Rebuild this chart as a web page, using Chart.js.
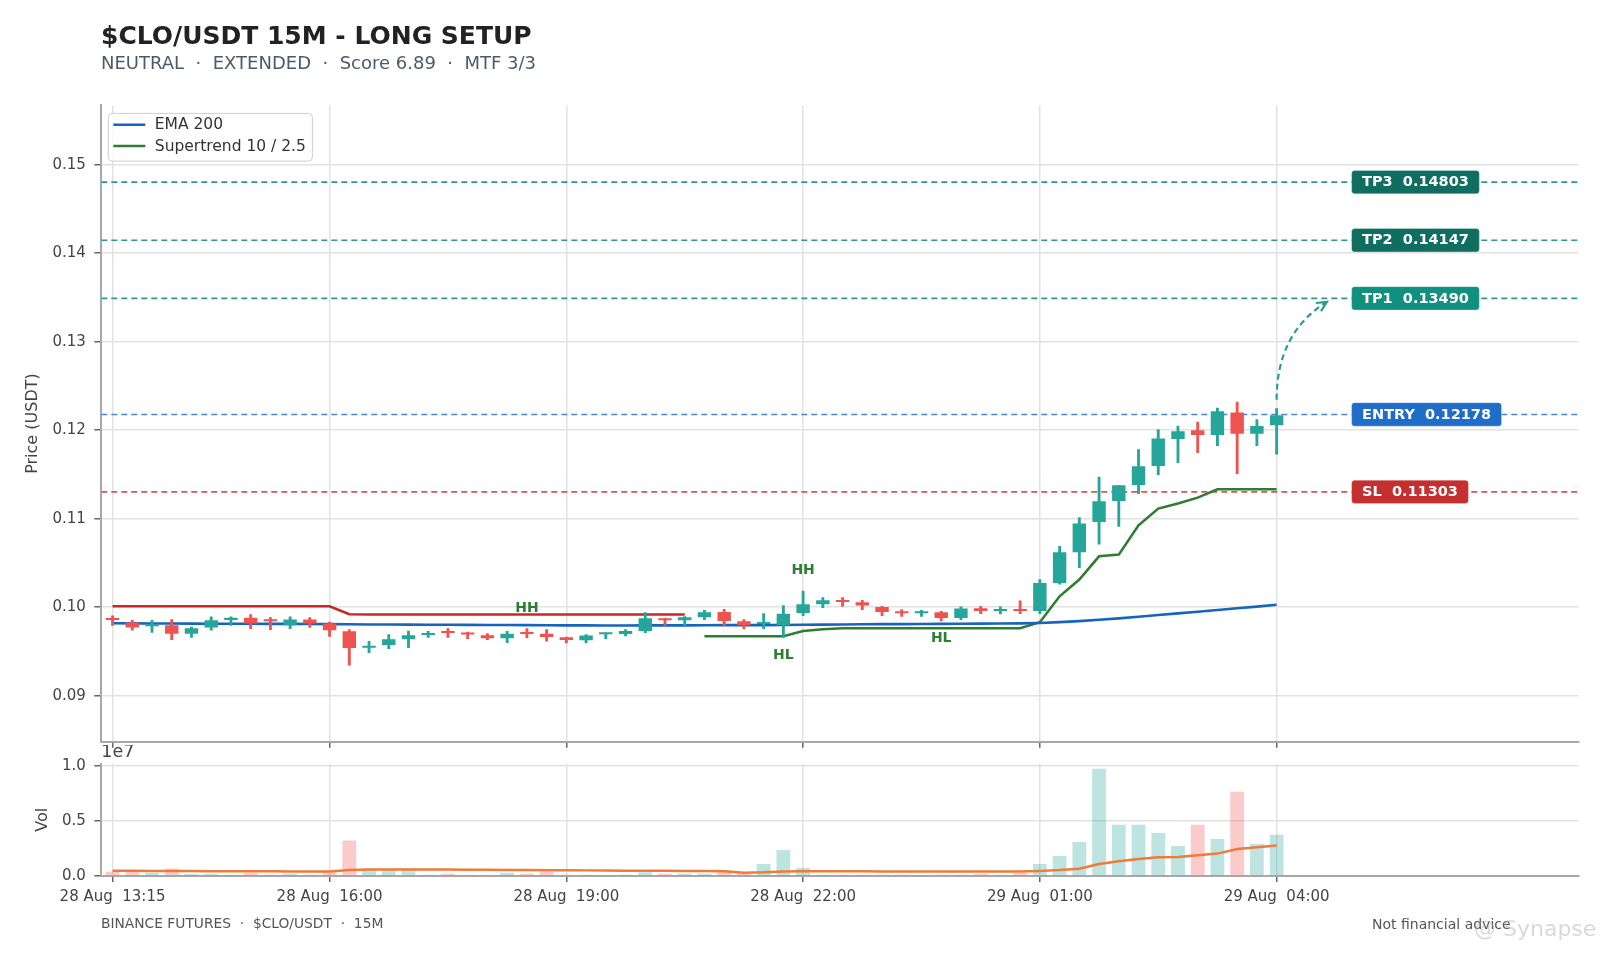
<!DOCTYPE html>
<html>
<head>
<meta charset="utf-8">
<title>$CLO/USDT 15M - LONG SETUP</title>
<script src="https://cdn.jsdelivr.net/npm/chart.js@4.4.1/dist/chart.umd.min.js"></script>
<style>
  html, body { margin: 0; padding: 0; background: #fff; }
  body { width: 1604px; height: 957px; position: relative; overflow: hidden; font-family: "DejaVu Sans", sans-serif; }
  canvas { position: absolute; left: 0; }
  .txt { position: absolute; white-space: pre; line-height: 1; }
  #title { left: 101px; top: 23px; font-size: 25px; font-weight: bold; color: #222; }
  #subtitle { left: 101px; top: 54px; font-size: 18px; color: #4b5b6b; }
  #footL { left: 101px; top: 917px; font-size: 13.8px; color: #555; }
  #footR { left: 1372px; top: 917px; font-size: 14px; color: #555; }
  #mark { left: 1474px; top: 918px; font-size: 22px; color: rgba(170,170,170,0.45); }
</style>
</head>
<body>
<canvas id="priceChart" width="1604" height="760" style="top:0"></canvas>
<canvas id="volChart" width="1604" height="212" style="top:745px"></canvas>
<div id="title" class="txt">$CLO/USDT 15M - LONG SETUP</div>
<div id="subtitle" class="txt">NEUTRAL  ·  EXTENDED  ·  Score 6.89  ·  MTF 3/3</div>
<div id="footL" class="txt">BINANCE FUTURES  ·  $CLO/USDT  ·  15M</div>
<div id="footR" class="txt">Not financial advice</div>
<div id="mark" class="txt">@ Synapse</div>
<script>
// 15m candles, 28 Aug 13:15 -> 29 Aug 04:00
const tickIdx = [0, 11, 23, 35, 47, 59];
const tickLabels = ['28 Aug  13:15', '28 Aug  16:00', '28 Aug  19:00', '28 Aug  22:00', '29 Aug  01:00', '29 Aug  04:00'];

const opens = [
  0.09870, 0.09826, 0.09784, 0.09795, 0.09701, 0.09770, 0.09856, 0.09882, 0.09850, 0.09795,
  0.09860, 0.09815, 0.09728, 0.09543, 0.09573, 0.09637, 0.09686, 0.09720, 0.09697, 0.09683,
  0.09649, 0.09708, 0.09701, 0.09660, 0.09626, 0.09693, 0.09697, 0.09731, 0.09863, 0.09852,
  0.09886, 0.09946, 0.09840, 0.09810, 0.09795, 0.09935, 0.10033, 0.10078, 0.10055, 0.10003,
  0.09946, 0.09931, 0.09942, 0.09878, 0.09988, 0.09957, 0.09980, 0.09957, 0.10273, 0.10620,
  0.10963, 0.11200, 0.11381, 0.11596, 0.11901, 0.11999, 0.11946, 0.12199, 0.11961, 0.12055
];
const highs = [
  0.09901, 0.09852, 0.09852, 0.09860, 0.09776, 0.09890, 0.09890, 0.09916, 0.09882, 0.09890,
  0.09882, 0.09833, 0.09747, 0.09615, 0.09690, 0.09731, 0.09728, 0.09758, 0.09720, 0.09701,
  0.09728, 0.09758, 0.09747, 0.09663, 0.09690, 0.09708, 0.09747, 0.09939, 0.09875, 0.09894,
  0.09965, 0.09976, 0.09860, 0.09927, 0.10018, 0.10183, 0.10108, 0.10108, 0.10078, 0.10010,
  0.09973, 0.09965, 0.09953, 0.10003, 0.10010, 0.10003, 0.10072, 0.10312, 0.10688, 0.11012,
  0.11471, 0.11377, 0.11781, 0.12007, 0.12047, 0.12093, 0.12251, 0.12319, 0.12120, 0.12244
];
const lows = [
  0.09795, 0.09739, 0.09716, 0.09634, 0.09657, 0.09739, 0.09795, 0.09758, 0.09747, 0.09758,
  0.09770, 0.09671, 0.09344, 0.09487, 0.09532, 0.09543, 0.09657, 0.09657, 0.09645, 0.09634,
  0.09600, 0.09652, 0.09615, 0.09596, 0.09596, 0.09645, 0.09675, 0.09713, 0.09795, 0.09795,
  0.09860, 0.09795, 0.09754, 0.09758, 0.09657, 0.09905, 0.09995, 0.10010, 0.09973, 0.09905,
  0.09897, 0.09897, 0.09844, 0.09860, 0.09927, 0.09923, 0.09927, 0.09927, 0.10259, 0.10447,
  0.10711, 0.10914, 0.11284, 0.11498, 0.11634, 0.11747, 0.11826, 0.11510, 0.11826, 0.11728
];
const closes = [
  0.09855, 0.09770, 0.09807, 0.09701, 0.09762, 0.09852, 0.09882, 0.09815, 0.09840, 0.09860,
  0.09815, 0.09739, 0.09539, 0.09555, 0.09637, 0.09683, 0.09708, 0.09708, 0.09690, 0.09649,
  0.09701, 0.09697, 0.09663, 0.09629, 0.09679, 0.09700, 0.09731, 0.09875, 0.09852, 0.09886,
  0.09942, 0.09844, 0.09795, 0.09820, 0.09927, 0.10033, 0.10078, 0.10059, 0.10018, 0.09946,
  0.09931, 0.09942, 0.09878, 0.09984, 0.09957, 0.09976, 0.09957, 0.10273, 0.10620, 0.10945,
  0.11197, 0.11377, 0.11592, 0.11905, 0.11988, 0.11946, 0.12214, 0.11961, 0.12047, 0.12168
];

const ema200 = [
  0.09818, 0.09817, 0.09816, 0.09815, 0.09814, 0.09813, 0.09813, 0.09812, 0.09811, 0.09811,
  0.09810, 0.09809, 0.09807, 0.09805, 0.09804, 0.09803, 0.09802, 0.09801, 0.09800, 0.09799,
  0.09798, 0.09797, 0.09796, 0.09795, 0.09794, 0.09793, 0.09793, 0.09794, 0.09794, 0.09795,
  0.09796, 0.09797, 0.09797, 0.09797, 0.09799, 0.09801, 0.09803, 0.09805, 0.09807, 0.09808,
  0.09809, 0.09810, 0.09811, 0.09813, 0.09814, 0.09816, 0.09817, 0.09822, 0.09831, 0.09843,
  0.09858, 0.09874, 0.09892, 0.09911, 0.09930, 0.09949, 0.09969, 0.09988, 0.10006, 0.10028
];
// supertrend: bearish leg (candles 0-29), bullish leg (candles 30-59)
const stDown = [
  0.10010, 0.10010, 0.10010, 0.10010, 0.10010, 0.10010, 0.10010, 0.10010, 0.10010, 0.10010,
  0.10010, 0.10010, 0.09920, 0.09918, 0.09918, 0.09918, 0.09918, 0.09918, 0.09918, 0.09918,
  0.09918, 0.09918, 0.09918, 0.09918, 0.09918, 0.09918, 0.09918, 0.09918, 0.09918, 0.09918
];
const stUp = [
  0.09671, 0.09671, 0.09671, 0.09671, 0.09671, 0.09731, 0.09750, 0.09762, 0.09762, 0.09762,
  0.09762, 0.09762, 0.09762, 0.09762, 0.09762, 0.09762, 0.09762, 0.09830, 0.10123, 0.10312,
  0.10575, 0.10594, 0.10925, 0.11114, 0.11171, 0.11238, 0.11332, 0.11332, 0.11332, 0.11332
];

const volumes = [
  0.39e6, 0.55e6, 0.30e6, 0.67e6, 0.18e6, 0.18e6, 0.12e6, 0.30e6, 0.12e6, 0.21e6,
  0.12e6, 0.39e6, 3.21e6, 0.67e6, 0.55e6, 0.67e6, 0.12e6, 0.21e6, 0.12e6, 0.12e6,
  0.30e6, 0.21e6, 0.39e6, 0.12e6, 0.12e6, 0.05e6, 0.12e6, 0.33e6, 0.21e6, 0.21e6,
  0.21e6, 0.48e6, 0.20e6, 1.09e6, 2.36e6, 0.73e6, 0.12e6, 0.12e6, 0.12e6, 0.12e6,
  0.12e6, 0.05e6, 0.12e6, 0.12e6, 0.21e6, 0.12e6, 0.27e6, 1.09e6, 1.82e6, 3.09e6,
  9.73e6, 4.64e6, 4.64e6, 3.91e6, 2.73e6, 4.64e6, 3.36e6, 7.64e6, 2.91e6, 3.73e6
];
const volMA = [
  0.48e6, 0.47e6, 0.46e6, 0.46e6, 0.45e6, 0.44e6, 0.43e6, 0.42e6, 0.42e6, 0.41e6,
  0.40e6, 0.40e6, 0.55e6, 0.58e6, 0.58e6, 0.60e6, 0.59e6, 0.58e6, 0.57e6, 0.56e6,
  0.55e6, 0.54e6, 0.53e6, 0.52e6, 0.51e6, 0.50e6, 0.48e6, 0.48e6, 0.47e6, 0.46e6,
  0.45e6, 0.44e6, 0.30e6, 0.33e6, 0.40e6, 0.42e6, 0.42e6, 0.42e6, 0.42e6, 0.41e6,
  0.41e6, 0.41e6, 0.41e6, 0.40e6, 0.40e6, 0.40e6, 0.40e6, 0.46e6, 0.54e6, 0.66e6,
  1.09e6, 1.33e6, 1.55e6, 1.70e6, 1.73e6, 1.88e6, 2.03e6, 2.45e6, 2.61e6, 2.76e6
];

const priceTicks = [0.09, 0.10, 0.11, 0.12, 0.13, 0.14, 0.15];
const volTicks = [0, 5e6, 1e7];

const levelNames = ['TP3', 'TP2', 'TP1', 'ENTRY', 'SL'];
const levelValues = [0.14803, 0.14147, 0.13490, 0.12178, 0.11303];

const swingText = ['HH', 'HL', 'HH', 'HL'];
const swingIdx = [21, 34, 35, 42];

// ---- styling ----
Chart.defaults.font.family = '"DejaVu Sans", sans-serif';
Chart.defaults.color = '#444';

const xMin = -0.57, xMax = 74.3;
const upColor = '#26a69a', downColor = '#ef5350';
const levelLine = ['#2f978c', '#2f978c', '#2f978c', '#4a88d2', '#d65753'];
const levelBox = ['#0f6e5f', '#0f6e5f', '#10907f', '#1f6cc9', '#c62f2f'];
const gridColor = '#e2e2e2';
const spineColor = '#a8a8a8';

const isUp = closes.map((c, i) => c >= opens[i]);
const candleColors = isUp.map(u => u ? upColor : downColor);
const volColors = isUp.map(u => u ? 'rgba(38,166,154,0.3)' : 'rgba(239,83,80,0.3)');

function xAxis(showLabels, height) {
  return {
    type: 'linear', min: xMin, max: xMax, offset: false,
    afterBuildTicks: s => { s.ticks = tickIdx.map(v => ({ value: v })); },
    afterFit: s => { s.height = height; },
    ticks: {
      display: showLabels, autoSkip: false, maxRotation: 0, padding: 6,
      font: { size: 15 }, color: '#444',
      callback: v => tickLabels[tickIdx.indexOf(v)]
    },
    grid: { color: gridColor, lineWidth: 1.5, offset: false, tickLength: 6, tickColor: '#666', tickWidth: 1.5 },
    border: { color: spineColor, width: 2 }
  };
}

function yAxis(min, max, ticks, fmt, title, titlePad) {
  return {
    type: 'linear', min: min, max: max,
    afterBuildTicks: s => { s.ticks = ticks.map(v => ({ value: v })); },
    afterFit: s => { s.width = 101.3; },
    ticks: { font: { size: 15 }, color: '#444', padding: 8.5, callback: fmt },
    grid: { color: gridColor, lineWidth: 1.5, tickLength: 7, tickColor: '#666', tickWidth: 1.5 },
    border: { color: spineColor, width: 2 },
    title: { display: true, text: title, font: { size: 16 }, color: '#444', padding: { top: titlePad, bottom: 0 } }
  };
}

// labels, level tags, arrow and legend on the price panel
const priceOverlay = {
  id: 'priceOverlay',
  afterDatasetsDraw(chart) {
    const { ctx, chartArea, scales: { x, y } } = chart;
    ctx.save();

    ctx.font = 'bold 14px "DejaVu Sans"';
    ctx.fillStyle = '#2e7d32';
    ctx.textAlign = 'center';
    ctx.textBaseline = 'middle';
    swingText.forEach((t, k) => {
      const i = swingIdx[k];
      const p = t === 'HH' ? highs[i] + 0.0023 : lows[i] - 0.002;
      ctx.fillText(t, x.getPixelForValue(i), y.getPixelForValue(p));
    });

    // arrow from last candle to TP1
    const last = closes.length - 1;
    const x0 = x.getPixelForValue(last), y0 = y.getPixelForValue(highs[last] + 0.001);
    const x2 = x.getPixelForValue(last + 2.55), y2 = y.getPixelForValue(levelValues[2] - 0.0004);
    const cx = x0, cy = y.getPixelForValue(levelValues[2] - 0.0039);
    ctx.strokeStyle = '#2a9d8f';
    ctx.lineWidth = 2.2;
    ctx.setLineDash([6, 4]);
    ctx.beginPath();
    ctx.moveTo(x0, y0);
    ctx.quadraticCurveTo(cx, cy, x2, y2);
    ctx.stroke();
    ctx.setLineDash([]);
    const ang = Math.atan2(y2 - cy, x2 - cx);
    ctx.beginPath();
    ctx.moveTo(x2 - 11 * Math.cos(ang - 0.45), y2 - 11 * Math.sin(ang - 0.45));
    ctx.lineTo(x2, y2);
    ctx.lineTo(x2 - 11 * Math.cos(ang + 0.45), y2 - 11 * Math.sin(ang + 0.45));
    ctx.stroke();

    // level tags
    ctx.font = 'bold 14.5px "DejaVu Sans"';
    ctx.textAlign = 'left';
    const bx = x.getPixelForValue(62.8);
    levelNames.forEach((n, k) => {
      const txt = n + '  ' + levelValues[k].toFixed(5);
      const w = ctx.measureText(txt).width + 21;
      const py = y.getPixelForValue(levelValues[k]);
      ctx.fillStyle = levelBox[k];
      ctx.strokeStyle = 'rgba(255,255,255,0.3)';
      ctx.lineWidth = 1;
      ctx.beginPath();
      ctx.roundRect(bx, py - 11.7, w, 23.4, 3);
      ctx.fill();
      ctx.stroke();
      ctx.fillStyle = '#fff';
      ctx.fillText(txt, bx + 10.5, py + 0.5);
    });

    // legend
    const legTxt = ['EMA 200', 'Supertrend 10 / 2.5'];
    const legCol = ['#1565c0', '#2e7d32'];
    ctx.font = '15.5px "DejaVu Sans"';
    const lw = Math.max(...legTxt.map(t => ctx.measureText(t).width));
    const lx = chartArea.left + 7, ly = chartArea.top + 8;
    ctx.fillStyle = 'rgba(255,255,255,0.85)';
    ctx.strokeStyle = '#cfcfcf';
    ctx.lineWidth = 1;
    ctx.beginPath();
    ctx.roundRect(lx, ly, lw + 53, 47.7, 4);
    ctx.fill();
    ctx.stroke();
    legTxt.forEach((t, k) => {
      const ry = ly + 11.4 + k * 21.3;
      ctx.strokeStyle = legCol[k];
      ctx.lineWidth = 2.5;
      ctx.beginPath();
      ctx.moveTo(lx + 5, ry);
      ctx.lineTo(lx + 37, ry);
      ctx.stroke();
      ctx.fillStyle = '#333';
      ctx.fillText(t, lx + 46.5, ry + 0.5);
    });
    ctx.restore();
  }
};

const levelSets = levelNames.map((n, k) => ({
  type: 'line', label: n, order: 6,
  data: [{ x: xMin, y: levelValues[k] }, { x: xMax, y: levelValues[k] }],
  borderColor: levelLine[k], borderWidth: 1.6, borderDash: [6, 4], pointRadius: 0
}));

new Chart(document.getElementById('priceChart'), {
  type: 'bar',
  data: {
    datasets: [
      {
        label: 'body', order: 1, grouped: false,
        data: opens.map((o, i) => ({ x: i, y: [o, closes[i]] })),
        backgroundColor: candleColors, barPercentage: 0.68, categoryPercentage: 1, minBarLength: 2
      },
      {
        label: 'wick', order: 2, grouped: false,
        data: lows.map((l, i) => ({ x: i, y: [l, highs[i]] })),
        backgroundColor: candleColors, barThickness: 2.2
      },
      {
        type: 'line', label: 'EMA 200', order: 3,
        data: ema200.map((v, i) => ({ x: i, y: v })),
        borderColor: '#1565c0', borderWidth: 2.6, pointRadius: 0
      },
      {
        type: 'line', label: 'Supertrend down', order: 4,
        data: stDown.map((v, i) => ({ x: i, y: v })),
        borderColor: '#c62828', borderWidth: 2.6, pointRadius: 0
      },
      {
        type: 'line', label: 'Supertrend 10 / 2.5', order: 4,
        data: stUp.map((v, k) => ({ x: k + stDown.length, y: v })),
        borderColor: '#2e7d32', borderWidth: 2.6, pointRadius: 0
      },
      ...levelSets
    ]
  },
  options: {
    responsive: false, animation: false,
    layout: { padding: { top: 105.4, right: 25.5, left: 0, bottom: 0 } },
    plugins: { legend: { display: false }, tooltip: { enabled: false } },
    scales: {
      x: xAxis(false, 18.3),
      y: yAxis(0.0848, 0.1567, priceTicks, v => v.toFixed(2), 'Price (USDT)', 23.5)
    }
  },
  plugins: [priceOverlay]
});

// offset text above the volume axis
const volOffset = {
  id: 'volOffset',
  afterDraw(chart) {
    const { ctx, chartArea } = chart;
    ctx.save();
    ctx.font = '17.5px "DejaVu Sans"';
    ctx.fillStyle = '#444';
    ctx.textBaseline = 'middle';
    ctx.fillText('1e7', chartArea.left, chartArea.top - 11);
    ctx.restore();
  }
};

new Chart(document.getElementById('volChart'), {
  type: 'bar',
  data: {
    datasets: [
      {
        type: 'line', label: 'Vol MA', order: 1,
        data: volMA.map((v, i) => ({ x: i, y: v })),
        borderColor: '#f07a3a', borderWidth: 2.5, pointRadius: 0
      },
      {
        label: 'Vol', order: 2, grouped: false,
        data: volumes.map((v, i) => ({ x: i, y: v })),
        backgroundColor: volColors, barPercentage: 0.7, categoryPercentage: 1
      }
    ]
  },
  options: {
    responsive: false, animation: false,
    layout: { padding: { top: 18.5, right: 25.5, left: 0, bottom: 0 } },
    plugins: { legend: { display: false }, tooltip: { enabled: false } },
    scales: {
      x: xAxis(true, 81),
      y: yAxis(0, 1.02e7, volTicks, v => (v / 1e7).toFixed(1), 'Vol', 33.5)
    }
  },
  plugins: [volOffset]
});
</script>
</body>
</html>
